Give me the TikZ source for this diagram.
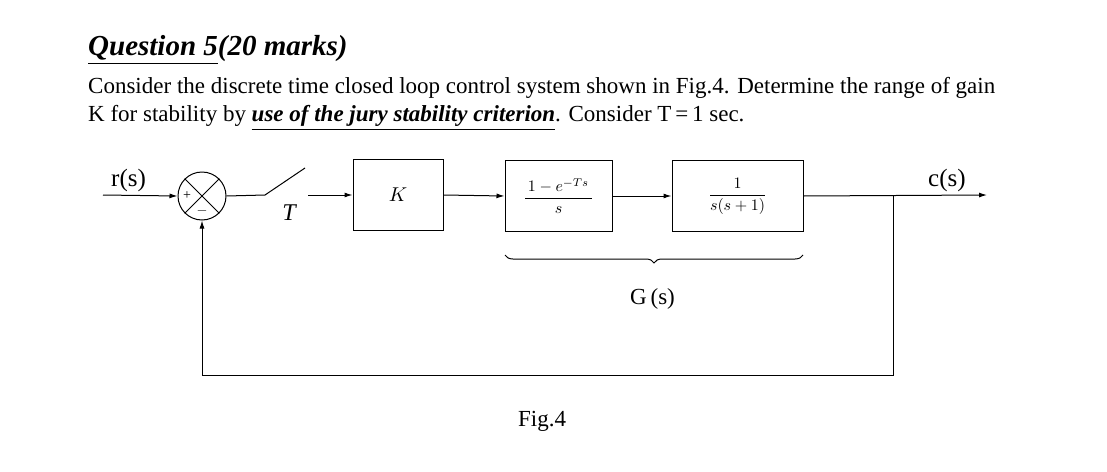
\documentclass[tikz,border=0pt]{standalone}
\usepackage{fontspec}
\setmainfont{Liberation Serif}
\usepackage{amsmath}
\usetikzlibrary{arrows.meta,decorations.pathreplacing}
\begin{document}
\begin{tikzpicture}[x=1pt,y=-1pt,
  blk/.style={draw,line width=1pt,minimum width=90pt,minimum height=71pt,inner sep=0pt},
  sig/.style={line width=1pt,-{Latex[length=8pt,width=5pt]}},
  ln/.style={line width=1pt},
  txt/.style={font=\fontsize{23}{27}\selectfont,anchor=base west,inner sep=0pt}]
\useasboundingbox (0,0) rectangle (1107,471);
\node[txt,font=\fontsize{29}{34}\selectfont\bfseries\itshape] (title) at (88,55) {\underline{Question 5}(20 marks)};
\node[txt] (l1) at (88,93) {Consider the discrete time closed loop control system shown in Fig.4. Determine the range of gain};
\node[txt] (l2) at (88,121) {K for stability by \textbf{\textit{\underline{use of the jury stability criterion}}}. Consider T\,=\,1 sec.};
\coordinate (in) at (103,195);
\node[draw,circle,line width=1pt,minimum size=48pt,inner sep=0pt] (sum) at (202,196) {};
\draw[ln] (sum.north east) -- (sum.south west) (sum.north west) -- (sum.south east);
\node (plus) at (187,196) {\scalebox{1.4}{+}};
\node (minus) at (202,211) {\scalebox{1.4}{$-$}};
\node[txt,font=\fontsize{25}{25}\selectfont] (r) at (111,186) {r(s)};
\draw[sig] (in) -- (sum.west);
\coordinate (s1) at (265,195);
\coordinate (s2) at (305,168);
\coordinate (s3) at (308,195);
\draw[ln] (sum.east) -- (s1) -- (s2);
\node[font=\fontsize{24}{24}\selectfont\itshape] (T) at (289,213) {T};
\node[blk] (K) at (398,195) {\scalebox{2}{$K$}};
\draw[sig] (s3) -- (K.west);
\node[blk,minimum width=107pt] (Z) at (558.5,196) {\scalebox{1.6}{$\dfrac{\,1-e^{-Ts}\,}{s}$}};
\node[blk,minimum width=131pt] (P) at (737.5,196) {\scalebox{1.6}{$\dfrac{\quad\;1\quad\;}{s(s+1)}$}};
\draw[sig] (K.east) -- (Z.west);
\draw[sig] (Z.east) -- (P.west);
\coordinate (br) at (893,195);
\coordinate (out) at (987,195);
\coordinate (b1) at (893,375);
\coordinate (b2) at (202,375);
\draw[sig] (P.east) -- (out);
\draw[sig] (br) -- (b1) -- (b2) -- (sum.south);
\node[txt,font=\fontsize{25}{25}\selectfont] (c) at (928,186) {c(s)};
\draw[ln,decorate,decoration={brace,mirror,amplitude=8pt}] (505,255) -- (803,255);
\node[txt] (G) at (630,304) {G\,(s)};
\node[txt] (fig) at (518,426) {Fig.4};
\end{tikzpicture}
\end{document}
